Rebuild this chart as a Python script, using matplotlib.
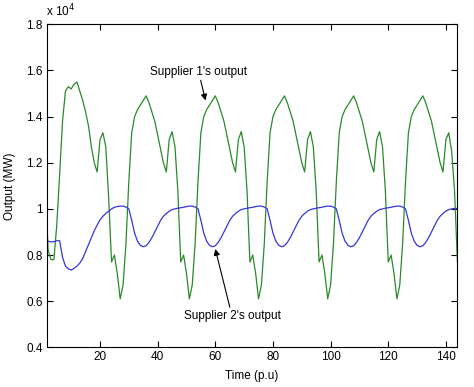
import matplotlib.pyplot as plt
import numpy as np

plt.rcParams['font.family'] = ['Liberation Sans', 'DejaVu Sans']

# Time in p.u. (hours)
hours = np.arange(1, 145)

# Supplier 1's output (x 10^4 MW), one row per day
s1_output = [
    1.10, 0.82, 0.78, 0.78, 0.93, 1.15, 1.38, 1.51, 1.53, 1.52, 1.54, 1.55,
    1.51, 1.47, 1.42, 1.36, 1.27, 1.20, 1.16, 1.30, 1.33, 1.27, 1.05, 0.77,
    0.80, 0.72, 0.61, 0.67, 0.85, 1.12, 1.33, 1.40, 1.43, 1.45, 1.47, 1.49,
    1.46, 1.42, 1.38, 1.32, 1.26, 1.20, 1.16, 1.30, 1.335, 1.27, 1.08, 0.77,
    0.80, 0.72, 0.61, 0.67, 0.85, 1.12, 1.33, 1.40, 1.43, 1.45, 1.47, 1.49,
    1.46, 1.42, 1.38, 1.32, 1.26, 1.20, 1.16, 1.30, 1.335, 1.27, 1.08, 0.77,
    0.80, 0.72, 0.61, 0.67, 0.85, 1.12, 1.33, 1.40, 1.43, 1.45, 1.47, 1.49,
    1.46, 1.42, 1.38, 1.32, 1.26, 1.20, 1.16, 1.30, 1.335, 1.27, 1.08, 0.77,
    0.80, 0.72, 0.61, 0.67, 0.85, 1.12, 1.33, 1.40, 1.43, 1.45, 1.47, 1.49,
    1.46, 1.42, 1.38, 1.32, 1.26, 1.20, 1.16, 1.30, 1.335, 1.27, 1.08, 0.77,
    0.80, 0.72, 0.61, 0.67, 0.85, 1.12, 1.33, 1.40, 1.43, 1.45, 1.47, 1.49,
    1.46, 1.42, 1.38, 1.32, 1.26, 1.20, 1.16, 1.30, 1.33, 1.25, 1.08, 0.77,
]

# Supplier 2's output (x 10^4 MW)
s2_output = [
    0.865, 0.860, 0.857, 0.858, 0.862, 0.862, 0.790, 0.752, 0.740, 0.735, 0.742, 0.752,
    0.765, 0.785, 0.815, 0.845, 0.875, 0.905, 0.930, 0.952, 0.968, 0.980, 0.990, 1.000,
    1.007, 1.010, 1.012, 1.012, 1.008, 1.000, 0.950, 0.895, 0.860, 0.842, 0.836, 0.840,
    0.855, 0.875, 0.900, 0.925, 0.950, 0.968, 0.980, 0.990, 0.997, 1.000, 1.003, 1.005,
    1.007, 1.010, 1.012, 1.012, 1.008, 1.000, 0.950, 0.895, 0.860, 0.842, 0.836, 0.840,
    0.855, 0.875, 0.900, 0.925, 0.950, 0.968, 0.980, 0.990, 0.997, 1.000, 1.003, 1.005,
    1.007, 1.010, 1.012, 1.012, 1.008, 1.000, 0.950, 0.895, 0.860, 0.842, 0.836, 0.840,
    0.855, 0.875, 0.900, 0.925, 0.950, 0.968, 0.980, 0.990, 0.997, 1.000, 1.003, 1.005,
    1.007, 1.010, 1.012, 1.012, 1.008, 1.000, 0.950, 0.895, 0.860, 0.842, 0.836, 0.840,
    0.855, 0.875, 0.900, 0.925, 0.950, 0.968, 0.980, 0.990, 0.997, 1.000, 1.003, 1.005,
    1.007, 1.010, 1.012, 1.012, 1.008, 1.000, 0.950, 0.895, 0.860, 0.842, 0.836, 0.840,
    0.855, 0.875, 0.900, 0.925, 0.950, 0.968, 0.980, 0.990, 0.997, 1.000, 1.002, 1.002,
]

xticks = [20, 40, 60, 80, 100, 120, 140]
yticks = [0.4, 0.6, 0.8, 1.0, 1.2, 1.4, 1.6, 1.8]
ylabels = ['0.4', '0.6', '0.8', '1', '1.2', '1.4', '1.6', '1.8']

fig = plt.figure(figsize=(4.74, 3.87), dpi=100)
ax = fig.add_axes([0.0985, 0.1026, 0.8665, 0.8345])

ax.plot(hours, s1_output, color='#2a8a2a', linewidth=0.9)
ax.plot(hours, s2_output, color='#3535d8', linewidth=0.9)

ax.set_xlim(1.5, 144)
ax.set_ylim(0.4, 1.8)
ax.set_xticks(xticks)
ax.set_yticks(yticks)
ax.set_yticklabels(ylabels)
ax.tick_params(direction='in', top=True, right=True, labelsize=8.5, length=4, width=0.8, pad=3)
for s in ax.spines.values():
    s.set_linewidth(0.8)

ax.set_xlabel('Time (p.u)', fontsize=8.5, labelpad=5)
ax.set_ylabel('Output (MW)', fontsize=8.5, labelpad=7)
fig.text(0.098, 0.95, r'x 10$^4$', fontsize=8.5, ha='left', va='bottom')

arrow = dict(arrowstyle='-|>', color='black', lw=0.8, mutation_scale=9, shrinkA=0, shrinkB=0)
ax.annotate("Supplier 1's output", xy=(56.6, 1.47), xytext=(54.2, 1.595),
            fontsize=8.5, ha='center', va='center', arrowprops=arrow)
ax.annotate("Supplier 2's output", xy=(60.0, 0.826), xytext=(65.8, 0.536),
            fontsize=8.5, ha='center', va='center', arrowprops=arrow)

plt.savefig('out.png', dpi=100)
